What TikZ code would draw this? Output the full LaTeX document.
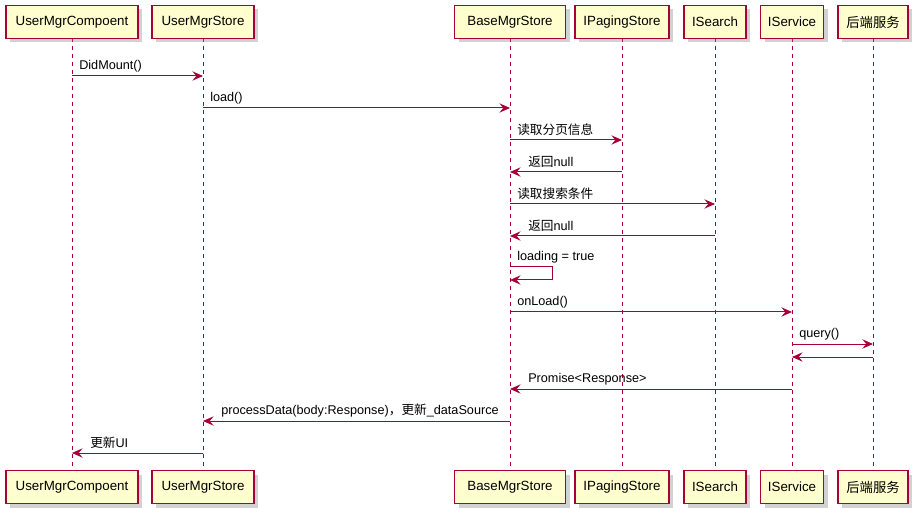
\documentclass[tikz,border=0pt]{standalone}
\usepackage{fontspec}
\setmainfont{Liberation Sans}
\newfontfamily\cjk{Noto Sans CJK SC}
\usetikzlibrary{arrows.meta,shadows}
\definecolor{pborder}{HTML}{A80036}
\definecolor{pfill}{HTML}{FEFECE}
\tikzset{
  part/.style={draw=pborder,fill=pfill,line width=0.9pt,minimum height=33*0.75pt,inner xsep=5pt,font=\fontsize{10}{12}\selectfont,drop shadow={shadow xshift=3pt,shadow yshift=-3pt,opacity=0.35}},
  life/.style={draw=pborder,dashed,dash pattern=on 3pt off 3pt,line width=0.6pt},
  msg/.style={draw=pborder,line width=0.75pt,-{Stealth[length=8pt,width=7pt,inset=3pt]}},
  lbl/.style={font=\fontsize{9.5}{11}\selectfont,inner sep=0pt}
}
\begin{document}
\begin{tikzpicture}[x=0.75pt,y=-0.75pt]
\useasboundingbox (0,0) rectangle (920,516);
\fill[white] (0,0) rectangle (920,516);
\foreach \n/\x/\t/\w in {a/72/UserMgrCompoent/132,b/203/UserMgrStore/102,c/510/BaseMgrStore/111,d/622/IPagingStore/94,e/715/ISearch/62,f/792/IService/63,g/873/{\cjk 后端服务}/70}{
  \draw[life] (\x,38) -- (\x,470);
  \node[part,minimum width=\w*0.75pt] (\n t) at (\x,22) {\t};
  \node[part,minimum width=\w*0.75pt] (\n b) at (\x,487) {\t};
  \coordinate (\n) at (\x,0);
}
% messages
\newcommand\rmsg[4]{\draw[msg] (#1|-{0,#3}) -- (#2|-{0,#3}); \node[lbl,anchor=south west] at ([xshift=7*0.75pt]#1|-{0,#3-4}) {#4};}
\newcommand\lmsg[4]{\draw[msg] (#1|-{0,#3}) -- (#2|-{0,#3}); \node[lbl,anchor=south west] at ([xshift=18*0.75pt]#2|-{0,#3-4}) {#4};}
\rmsg{a}{b}{76}{DidMount()}
\rmsg{b}{c}{108}{load()}
\rmsg{c}{d}{140}{\cjk 读取分页信息}
\lmsg{d}{c}{172}{{\cjk 返回}null}
\rmsg{c}{e}{204}{\cjk 读取搜索条件}
\lmsg{e}{c}{236}{{\cjk 返回}null}
\coordinate (s1) at (552,267);
\draw[msg] (c|-s1) -- (s1) -- (552,280) -- (c|-{0,280});
\node[lbl,anchor=south west] at ([xshift=7*0.75pt]c|-{0,263}) {loading = true};
\rmsg{c}{f}{312}{onLoad()}
\rmsg{f}{g}{344}{query()}
\draw[msg] (g|-{0,357}) -- (f|-{0,357});
\lmsg{f}{c}{389}{Promise<Response>}
\lmsg{c}{b}{421}{processData(body:Response){\cjk ，更新}\_dataSource}
\lmsg{b}{a}{453}{{\cjk 更新}UI}
\end{tikzpicture}
\end{document}
